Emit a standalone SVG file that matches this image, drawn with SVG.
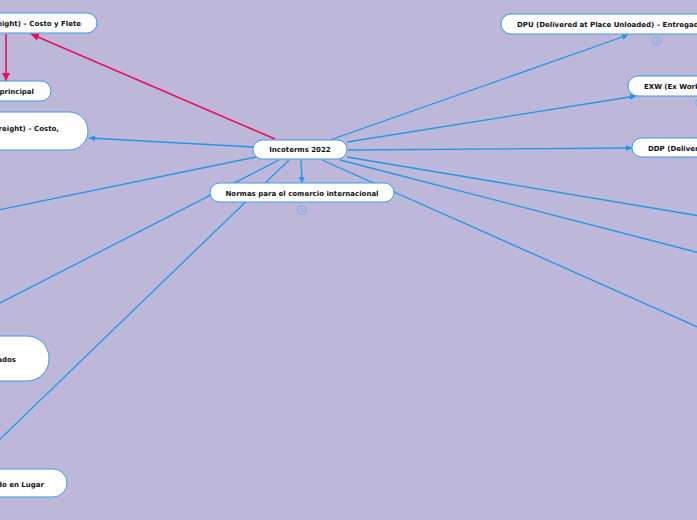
<svg xmlns="http://www.w3.org/2000/svg" width="697" height="520" viewBox="0 0 697 520">
<style>
.bg{fill:#bdb8da}
.node rect{fill:#ffffff;stroke:#3a9ae6;stroke-width:1}
.node text{font-family:"DejaVu Sans",Verdana,sans-serif;font-weight:bold;font-size:7px;fill:#111}
.c{fill:none;stroke:#2196e3;stroke-width:1.3}
.r{fill:none;stroke:#e8115b;stroke-width:1.6}
.badge circle{fill:none;stroke:#5aaaf0;stroke-width:0.8}
.badge text{font-family:"DejaVu Sans",sans-serif;font-size:5px;fill:#5aaaf0;text-anchor:middle}
</style>
<defs>
<marker id="ab" viewBox="0 0 10 10" refX="10" refY="5" markerWidth="6" markerHeight="6" orient="auto" markerUnits="userSpaceOnUse"><path d="M0,0L10,5L0,10z" fill="#2196e3"/></marker>
<marker id="ar" viewBox="0 0 10 10" refX="10" refY="5" markerWidth="8" markerHeight="8" orient="auto" markerUnits="userSpaceOnUse"><path d="M0,0L10,5L0,10z" fill="#e8115b"/></marker>
</defs>
<rect class="bg" x="0" y="0" width="697" height="520"/>
<g id="connectors">
<line class="c" x1="256" y1="157" x2="-2" y2="210"/>
<line class="c" x1="279" y1="160" x2="-2" y2="304"/>
<line class="c" x1="289" y1="160" x2="-2" y2="441"/>
<line class="c" x1="347" y1="157" x2="700" y2="216"/>
<line class="c" x1="340" y1="160" x2="700" y2="253"/>
<line class="c" x1="322" y1="160" x2="700" y2="328"/>
<line class="c" x1="253" y1="147" x2="89" y2="138" marker-end="url(#ab)"/>
<line class="c" x1="301" y1="160" x2="302" y2="183" marker-end="url(#ab)"/>
<line class="c" x1="330" y1="140" x2="628" y2="35" marker-end="url(#ab)"/>
<line class="c" x1="347" y1="142" x2="636" y2="96" marker-end="url(#ab)"/>
<line class="c" x1="348" y1="150" x2="632" y2="148" marker-end="url(#ab)"/>
<line class="r" x1="275" y1="139" x2="31" y2="34" marker-end="url(#ar)"/>
<line class="r" x1="6" y1="34" x2="6" y2="81" marker-end="url(#ar)"/>
</g>
<g id="n-center" class="node"><rect x="253" y="140" width="94" height="19" rx="9.5"/><text x="300" y="151.5" text-anchor="middle">Incoterms 2022</text></g>
<g id="n-normas" class="node"><rect x="210" y="183" width="184" height="19" rx="9.5"/><text x="302" y="195.5" text-anchor="middle">Normas para el comercio internacional</text></g>
<g id="b-normas" class="badge"><circle cx="302" cy="210" r="4.3"/><text x="302" y="211.8">1</text></g>
<g id="n-cfr" class="node"><rect x="-120" y="13" width="217" height="20" rx="10"/><text x="81" y="25.5" text-anchor="end">CFR (Cost and Freight) – Costo y Flete</text></g>
<g id="n-principal" class="node"><rect x="-120" y="81" width="171" height="20" rx="10"/><text x="34" y="93.5" text-anchor="end">Transporte principal</text></g>
<g id="n-cif" class="node"><rect x="-120" y="112" width="208" height="38" rx="19"/><text x="59" y="130.5" text-anchor="end">CIF (Cost, Insurance and Freight) – Costo,</text></g>
<g id="n-cip" class="node"><rect x="-120" y="336" width="169" height="45" rx="22"/><text x="16" y="361.5" text-anchor="end">Seguro Pagados</text></g>
<g id="n-dap" class="node"><rect x="-120" y="469" width="187" height="28" rx="14"/><text x="44" y="486.5" text-anchor="end">DAP (Delivered at Place) – Entregado en Lugar</text></g>
<g id="n-dpu" class="node"><rect x="501" y="14" width="260" height="20" rx="10"/><text x="517" y="26.5">DPU (Delivered at Place Unloaded) – Entregado en Lugar Descargado</text></g>
<g id="b-dpu" class="badge"><circle cx="657" cy="41" r="4.3"/><text x="657" y="42.8">1</text></g>
<g id="n-exw" class="node"><rect x="628" y="76" width="130" height="20" rx="10"/><text x="644" y="88.5">EXW (Ex Works) – En Fábrica</text></g>
<g id="b-exw" class="badge"><circle cx="700" cy="103" r="4.3"/></g>
<g id="n-ddp" class="node"><rect x="632" y="138" width="130" height="19" rx="9.5"/><text x="648" y="150.5">DDP (Delivered Duty Paid)</text></g>
</svg>
